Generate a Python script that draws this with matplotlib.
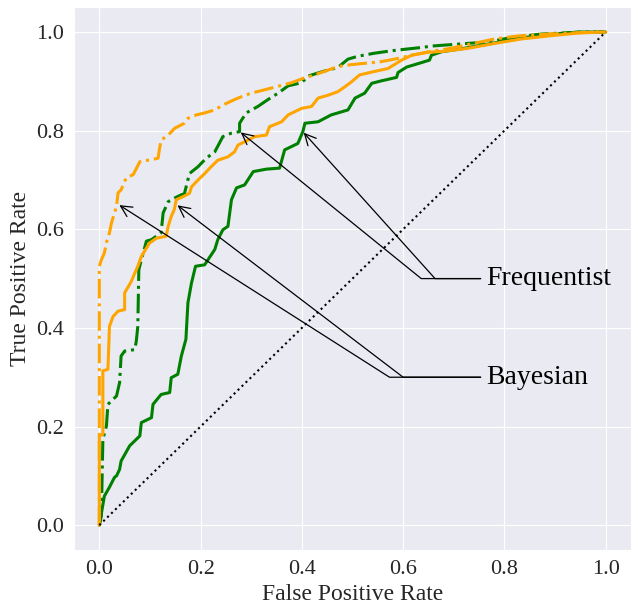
import matplotlib
matplotlib.use("Agg")
import matplotlib.pyplot as plt
import seaborn as sns

# ROC curves
freq_dd_fpr = [0, 0.004, 0.007, 0.014, 0.017, 0.034, 0.040, 0.043, 0.050, 0.070, 0.073, 0.076,
               0.078, 0.083, 0.093, 0.103, 0.122, 0.126, 0.136, 0.148, 0.162, 0.168, 0.178, 0.195,
               0.211, 0.228, 0.244, 0.261, 0.277, 0.277, 0.290, 0.313, 0.333, 0.353, 0.373, 0.399,
               0.413, 0.445, 0.471, 0.491, 0.511, 0.543, 0.577, 0.603, 0.630, 0.662, 0.715, 0.768,
               0.820, 0.874, 0.958, 1.0]
freq_dd_tpr = [0, 0.019, 0.174, 0.201, 0.245, 0.262, 0.289, 0.343, 0.353, 0.356, 0.373, 0.403,
               0.518, 0.538, 0.576, 0.579, 0.593, 0.633, 0.656, 0.663, 0.670, 0.672, 0.713, 0.727,
               0.744, 0.757, 0.788, 0.795, 0.798, 0.815, 0.836, 0.849, 0.863, 0.876, 0.891, 0.897,
               0.911, 0.921, 0.928, 0.945, 0.951, 0.957, 0.962, 0.965, 0.968, 0.972, 0.976, 0.980,
               0.990, 0.996, 1.0, 1.0]

freq_fpr = [0, 0.010, 0.020, 0.030, 0.034, 0.040, 0.043, 0.060, 0.080, 0.083, 0.103, 0.106,
            0.122, 0.139, 0.142, 0.155, 0.162, 0.171, 0.175, 0.182, 0.190, 0.208, 0.228, 0.234,
            0.244, 0.254, 0.261, 0.271, 0.287, 0.304, 0.330, 0.356, 0.366, 0.392, 0.402, 0.406,
            0.432, 0.458, 0.491, 0.505, 0.524, 0.538, 0.557, 0.587, 0.590, 0.607, 0.633, 0.652,
            0.656, 0.676, 0.715, 0.781, 0.814, 0.874, 0.946, 1.0]
freq_tpr = [0, 0.059, 0.077, 0.097, 0.100, 0.113, 0.130, 0.161, 0.181, 0.208, 0.218, 0.245,
            0.265, 0.269, 0.299, 0.306, 0.343, 0.377, 0.451, 0.491, 0.525, 0.528, 0.559, 0.579,
            0.599, 0.606, 0.660, 0.684, 0.690, 0.717, 0.722, 0.724, 0.761, 0.774, 0.798, 0.815,
            0.818, 0.832, 0.842, 0.866, 0.876, 0.896, 0.901, 0.908, 0.918, 0.929, 0.937, 0.943,
            0.953, 0.960, 0.966, 0.978, 0.985, 0.994, 1.0, 1.0]

bayes_fpr = [0, 0.0, 0.007, 0.007, 0.017, 0.020, 0.027, 0.037, 0.050, 0.050, 0.063, 0.070,
             0.076, 0.083, 0.099, 0.113, 0.132, 0.136, 0.142, 0.148, 0.152, 0.165, 0.178, 0.182,
             0.195, 0.208, 0.221, 0.234, 0.254, 0.267, 0.274, 0.294, 0.307, 0.330, 0.336, 0.360,
             0.373, 0.399, 0.419, 0.432, 0.452, 0.471, 0.485, 0.498, 0.514, 0.543, 0.570, 0.597,
             0.617, 0.650, 0.682, 0.728, 0.781, 0.834, 0.887, 0.946, 1.0]
bayes_tpr = [0, 0.181, 0.184, 0.313, 0.316, 0.403, 0.423, 0.434, 0.437, 0.471, 0.494, 0.511,
             0.525, 0.545, 0.572, 0.582, 0.586, 0.606, 0.626, 0.640, 0.660, 0.666, 0.673, 0.686,
             0.700, 0.713, 0.727, 0.740, 0.747, 0.757, 0.771, 0.781, 0.788, 0.791, 0.808, 0.818,
             0.832, 0.845, 0.849, 0.866, 0.872, 0.879, 0.889, 0.899, 0.913, 0.920, 0.926, 0.943,
             0.953, 0.959, 0.961, 0.967, 0.977, 0.986, 0.992, 0.998, 1.0]

bayes_dd_fpr = [0, 0.0, 0.004, 0.010, 0.014, 0.020, 0.024, 0.030, 0.034, 0.037, 0.043, 0.053,
                0.067, 0.080, 0.096, 0.116, 0.119, 0.122, 0.136, 0.149, 0.168, 0.175, 0.192,
                0.208, 0.228, 0.244, 0.267, 0.281, 0.300, 0.327, 0.353, 0.379, 0.405, 0.425,
                0.452, 0.471, 0.498, 0.518, 0.551, 0.583, 0.617, 0.650, 0.689, 0.735, 0.781,
                0.827, 0.887, 0.978, 1.0]
bayes_dd_tpr = [0, 0.525, 0.538, 0.552, 0.573, 0.593, 0.613, 0.633, 0.647, 0.674, 0.680, 0.704,
                0.711, 0.737, 0.740, 0.744, 0.764, 0.781, 0.791, 0.805, 0.815, 0.825, 0.832,
                0.836, 0.842, 0.852, 0.863, 0.869, 0.876, 0.883, 0.890, 0.897, 0.907, 0.913,
                0.923, 0.930, 0.934, 0.936, 0.939, 0.945, 0.953, 0.960, 0.966, 0.976, 0.986,
                0.992, 0.996, 1.0, 1.0]

sns.set_style("darkgrid")
plt.rcParams['font.family'] = ['Liberation Serif', 'DejaVu Serif']

fig = plt.figure(figsize=(6.38, 6.15), dpi=100)
ax = fig.add_axes([0.116, 0.106, 0.873, 0.882])

lw = 2.2
ax.plot(freq_fpr, freq_tpr, color='green', lw=lw)
ax.plot(freq_dd_fpr, freq_dd_tpr, color='green', lw=lw, ls='-.')
ax.plot(bayes_fpr, bayes_tpr, color='orange', lw=lw)
ax.plot(bayes_dd_fpr, bayes_dd_tpr, color='orange', lw=lw, ls='-.')
ax.plot([0, 1], [0, 1], color='black', ls=':', lw=1.5)

ax.set_xlabel("False Positive Rate", fontsize=17)
ax.set_ylabel("True Positive Rate", fontsize=17)
ax.tick_params(labelsize=16)

# annotations: horizontal arm from the label, then straight to the curve
arrows = [
    ("Frequentist", (0.275, 0.80), (0.765, 0.50), -39, 'black'),
    ("Frequentist", (0.40, 0.80), (0.765, 0.50), -48, 'none'),
    ("Bayesian", (0.035, 0.652), (0.765, 0.30), -32.5, 'black'),
    ("Bayesian", (0.15, 0.652), (0.765, 0.30), -37.3, 'none'),
]
for txt, xy, xyt, angB, tc in arrows:
    ax.annotate(txt, xy=xy, xytext=xyt, fontsize=20, color=tc, ha='left', va='center',
                arrowprops=dict(arrowstyle='->', color='black', lw=0.9,
                                connectionstyle="angle,angleA=0,angleB=%s,rad=0" % angB))

fig.savefig("out.png")
